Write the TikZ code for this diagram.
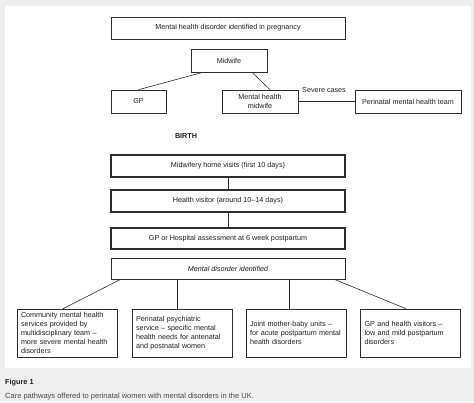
\documentclass[tikz,border=0pt]{standalone}
\usepackage{fontspec}
\setmainfont{Liberation Sans}
\usetikzlibrary{calc}
\definecolor{linec}{HTML}{2E2E2E}
\definecolor{txt}{HTML}{1E1E1E}
\definecolor{bg}{HTML}{EFEFEF}
\definecolor{captxt}{HTML}{484848}
\begin{document}
\begin{tikzpicture}[x=1pt,y=-1pt,
  box/.style={draw=linec, line width=0.6pt, rectangle, inner sep=2pt, font=\fontsize{7.2}{9}\selectfont, text=txt, align=center},
  thickbox/.style={box, line width=1.5pt},
  leafbox/.style={box, text width=92pt, inner xsep=4pt, inner ysep=0pt, align=left, minimum height=48pt},
  link/.style={draw=linec, line width=0.6pt},
  plain/.style={inner sep=0pt, font=\fontsize{7.2}{9}\selectfont, text=txt}]
\fill[bg] (0,0) rectangle (474,402);
\fill[white] (5,6) rectangle (471,368);
\useasboundingbox (0,0) rectangle (474,402);

% pregnancy part
\node[box, minimum width=234pt, minimum height=22pt] (preg) at (228,28) {Mental health disorder identified in pregnancy};
\node[box, minimum width=76pt, minimum height=23pt] (mw) at (229,60.5) {Midwife};
\node[box, minimum width=55pt, minimum height=23pt] (gp) at (138.5,101.5) {GP};
\node[box, minimum width=76pt, minimum height=23pt] (mhm) at (260,101.5) {Mental health\\midwife};
\node[box, minimum width=106pt, minimum height=23pt] (pmht) at (408,101.5) {Perinatal mental health team};
\node[plain, anchor=west] (severe) at (302,90) {Severe cases};

\draw[link] ([xshift=-26pt]mw.south) -- (gp.north);
\draw[link] ([xshift=23pt]mw.south) -- ([xshift=10pt]mhm.north);
\draw[link] (mhm.east) -- (pmht.west);

% birth
\node[plain, font=\bfseries\fontsize{7.2}{9}\selectfont] (birth) at (186,136) {BIRTH};

\node[thickbox, minimum width=234pt, minimum height=22pt] (home) at (228,166) {Midwifery home visits (first 10 days)};
\node[thickbox, minimum width=234pt, minimum height=22pt] (hv) at (228,201) {Health visitor (around 10--14 days)};
\node[thickbox, minimum width=234pt, minimum height=21pt] (sixw) at (228,238.5) {GP or Hospital assessment at 6 week postpartum};
\node[box, minimum width=234pt, minimum height=21pt, font=\itshape\fontsize{7.2}{9}\selectfont] (mdi) at (228,268.5) {Mental disorder identified};

\draw[link] (home.south) -- (hv.north);
\draw[link] (hv.south) -- (sixw.north);

% services
\node[leafbox] (b1) at (67,333) {Community mental health\\services provided by\\multidisciplinary team --\\more severe mental health\\disorders};
\node[leafbox] (b2) at (182,333) {Perinatal psychiatric\\service -- specific mental\\health needs for antenatal\\and postnatal women};
\node[leafbox] (b3) at (296,333) {Joint mother-baby units --\\for acute postpartum mental\\health disorders};
\node[leafbox] (b4) at (410.5,333) {GP and health visitors --\\low and mild postpartum\\disorders};

\draw[link] ([xshift=10pt]mdi.south west) -- ([xshift=-4pt]b1.north);
\draw[link] ([xshift=-51pt]mdi.south) -- ([xshift=-5pt]b2.north);
\draw[link] ([xshift=61pt]mdi.south) -- ([xshift=-7pt]b3.north);
\draw[link] ([xshift=-11pt]mdi.south east) -- ([xshift=-4.5pt]b4.north);

% caption
\node[inner sep=0pt, anchor=west, font=\bfseries\fontsize{7.3}{9}\selectfont, text=txt] (fig) at (5,383) {Figure 1};
\node[inner sep=0pt, anchor=west, font=\fontsize{7.5}{9}\selectfont, text=captxt] (cap) at (5,397) {Care pathways offered to perinatal women with mental disorders in the UK.};
\end{tikzpicture}
\end{document}
